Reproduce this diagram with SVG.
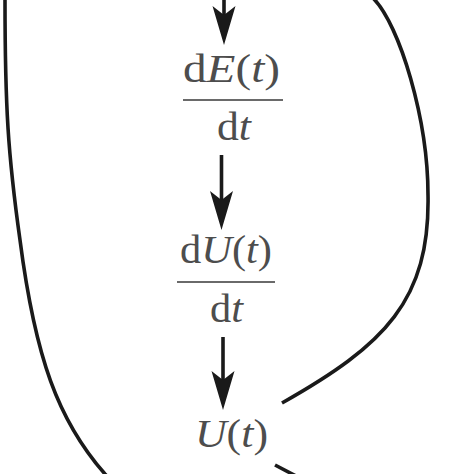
<svg xmlns="http://www.w3.org/2000/svg" width="474" height="474" viewBox="0 0 474 474">
<style>
.lbl{font-family:"Liberation Serif","Times New Roman",serif;font-size:41px;fill:#4d4d4d}
.it{font-style:italic}
.bar{stroke:#6a6a6a;stroke-width:2.2}
.edge{fill:none;stroke:#1a1a1a;stroke-width:3.6}
</style>
<defs>
<marker id="ah" markerUnits="userSpaceOnUse" viewBox="-40 -12 41 24" markerWidth="41" markerHeight="24" refX="-8" refY="0" orient="auto">
<path d="M0,0 L-39,-11.5 L-30,0 L-39,11.5 Z" fill="#1a1a1a"/>
</marker>
</defs>
<rect width="474" height="474" fill="#ffffff"/>
<g id="connectors">
<line class="edge" x1="224" y1="0" x2="224" y2="37" marker-end="url(#ah)"/>
<line class="edge" x1="221.5" y1="155" x2="221.5" y2="222" marker-end="url(#ah)"/>
<line class="edge" x1="223" y1="337" x2="223" y2="402" marker-end="url(#ah)"/>
<path class="edge" d="M282,403 C385,345 430,300 428,195 C428,120 400,25 373,-2"/>
<path class="edge" d="M107.6,476.8 L105,474 C58.1,420.7 35.2,357.5 20,240 C8,154.4 5,106.4 5,0 L5,-2"/>
<line class="edge" x1="275" y1="465" x2="296" y2="476"/>
</g>
<g id="node-dEdt">
<text class="lbl" x="183" y="82" textLength="97" lengthAdjust="spacingAndGlyphs">d<tspan class="it">E</tspan>(<tspan class="it">t</tspan>)</text>
<line class="bar" x1="183" y1="100" x2="283" y2="100"/>
<text class="lbl" x="217" y="140" textLength="34" lengthAdjust="spacingAndGlyphs">d<tspan class="it">t</tspan></text>
</g>
<g id="node-dUdt">
<text class="lbl" x="180" y="263" textLength="92" lengthAdjust="spacingAndGlyphs">d<tspan class="it">U</tspan>(<tspan class="it">t</tspan>)</text>
<line class="bar" x1="177" y1="282" x2="275" y2="282"/>
<text class="lbl" x="210" y="322" textLength="33" lengthAdjust="spacingAndGlyphs">d<tspan class="it">t</tspan></text>
</g>
<g id="node-U">
<text class="lbl" x="195" y="447" textLength="73" lengthAdjust="spacingAndGlyphs"><tspan class="it">U</tspan>(<tspan class="it">t</tspan>)</text>
</g>
</svg>
